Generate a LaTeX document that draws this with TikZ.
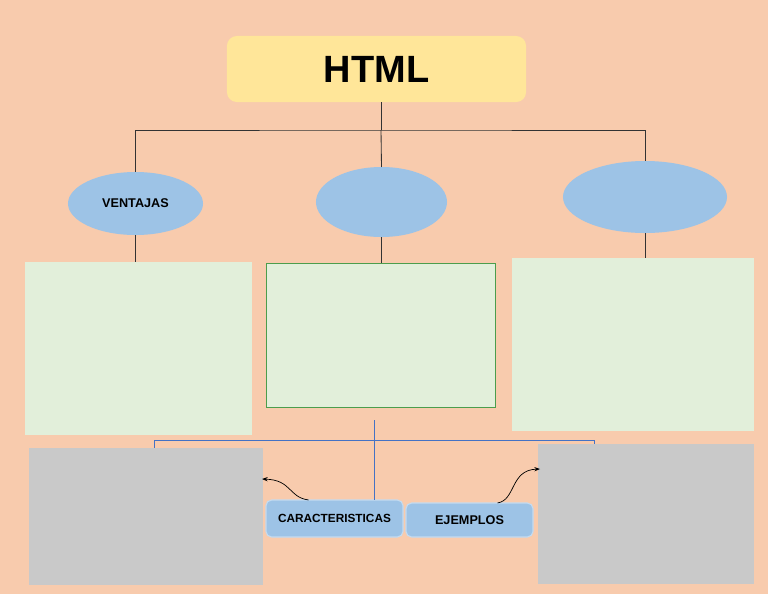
\documentclass[tikz,border=0pt]{standalone}
\usepackage{fontspec}
\setmainfont{Liberation Sans}
\usepackage{tikz}
\usetikzlibrary{arrows.meta, positioning, shapes.geometric}

\definecolor{peach}{HTML}{F8CBAD}
\definecolor{titleyellow}{HTML}{FFE699}
\definecolor{ovalblue}{HTML}{9DC3E6}
\definecolor{paleGreen}{HTML}{E2EFDA}
\definecolor{boxgrey}{HTML}{C9C9C9}
\definecolor{treeblue}{HTML}{4472C4}

\begin{document}
\begin{tikzpicture}[
  x=0.025cm, y=-0.025cm,
  box/.style={rectangle, inner sep=0pt, outer sep=0pt, fill=#1},
  box/.default=paleGreen,
  oval/.style={ellipse, inner sep=0pt, outer sep=0pt, fill=ovalblue,
               font=\bfseries\fontsize{9}{11}\selectfont},
  tag/.style={rectangle, rounded corners=4pt, inner sep=0pt, outer sep=0pt,
              fill=ovalblue, draw=ovalblue!60!white, line width=0.8pt},
  conn/.style={draw=black!80, line width=0.6pt},
  bconn/.style={draw=treeblue, line width=0.6pt},
  arr/.style={-{Stealth[length=4pt]}, line width=0.5pt},
]
  % background and page size
  \fill[peach] (0,0) rectangle (768,594);
  \useasboundingbox (0,0) rectangle (768,594);

  % title
  \node[box=titleyellow, rounded corners=7pt, minimum width=7.475cm, minimum height=1.65cm,
        font=\bfseries\fontsize{27}{30}\selectfont] (html) at (376.5,69) {HTML};

  % ovals
  \node[oval, minimum width=3.375cm, minimum height=1.575cm] (ventajas) at (135.5,203.5) {VENTAJAS};
  \node[oval, minimum width=3.275cm, minimum height=1.75cm]  (ovalM)    at (381.5,202)   {};
  \node[oval, minimum width=4.1cm,   minimum height=1.8cm]   (ovalR)    at (645,197)     {};

  % green boxes
  \node[box, minimum width=5.675cm, minimum height=4.325cm] (greenL) at (138.5,348.5) {};
  \node[box, draw=green!45!black!70, line width=0.4pt,
        minimum width=5.725cm, minimum height=3.6cm]        (greenM) at (380.5,335)   {};
  \node[box, minimum width=6.05cm,  minimum height=4.325cm] (greenR) at (633,344.5)   {};

  % grey boxes
  \node[box=boxgrey, minimum width=5.85cm, minimum height=3.425cm] (greyL) at (146,516.5) {};
  \node[box=boxgrey, minimum width=5.4cm,  minimum height=3.5cm]   (greyR) at (646,514)   {};

  % labels at the bottom
  \node[tag, minimum width=3.425cm, minimum height=0.925cm,
        font=\bfseries\fontsize{8.4}{10}\selectfont] (carac) at (334.5,518.5) {CARACTERISTICAS};
  \node[tag, minimum width=3.175cm, minimum height=0.85cm,
        font=\bfseries\fontsize{9}{11}\selectfont]   (ejem)  at (469.5,520)   {EJEMPLOS};

  % top tree
  \coordinate (jTop) at (381,130);
  \draw[conn] (html.south -| jTop) -- (jTop);
  \draw[conn] (ventajas.north) |- (jTop) -| (ovalR.north);
  \draw[conn] (jTop) -- (ovalM.north);

  % ovals to green boxes
  \draw[conn] (ventajas.south) -- (ventajas.south |- greenL.north);
  \draw[conn] (ovalM.south) -- (ovalM.south |- greenM.north);
  \draw[conn] (ovalR.south) -- (ovalR.south |- greenR.north);

  % bottom tree
  \coordinate (bTop) at (374,420);
  \coordinate (jBot) at (374,440);
  \draw[bconn] (bTop) -- (bTop |- carac.north);
  \draw[bconn] (greyL.north -| 154,0) |- (jBot) -| (greyR.north -| 594,0);

  % curved arrows
  \coordinate (caracTip) at (262,479);
  \coordinate (ejemTip)  at (540,469);
  \draw[arr] ([xshift=-0.65cm]carac.north) .. controls (288,497) and (292,480) .. (caracTip);
  \draw[arr] ([xshift=0.7cm]ejem.north) .. controls (516,500) and (510,470) .. (ejemTip);
\end{tikzpicture}
\end{document}
